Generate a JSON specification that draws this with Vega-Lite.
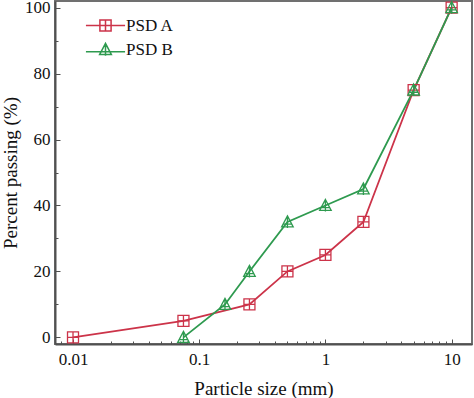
{
  "$schema": "https://vega.github.io/schema/vega-lite/v6.json",
  "width": 417,
  "height": 343,
  "autosize": "none",
  "padding": {"left": 55, "top": 1, "right": 2, "bottom": 54},
  "config": {
    "font": "Liberation Serif",
    "view": {"stroke": "#707070", "strokeWidth": 2},
    "axis": {"grid": false, "domainColor": "#505050", "domainWidth": 2, "tickColor": "#505050", "labelColor": "#111", "titleColor": "#111", "labelFont": "Liberation Serif", "titleFont": "Liberation Serif", "labelFontSize": 17, "titleFontSize": 19, "titleFontWeight": "normal"}
  },
  "data": {"values": [
    {"size": 0.01, "passing": 0, "series": "PSD A"},
    {"size": 0.075, "passing": 5, "series": "PSD A"},
    {"size": 0.25, "passing": 10, "series": "PSD A"},
    {"size": 0.5, "passing": 20, "series": "PSD A"},
    {"size": 1, "passing": 25, "series": "PSD A"},
    {"size": 2, "passing": 35, "series": "PSD A"},
    {"size": 5, "passing": 75, "series": "PSD A"},
    {"size": 10, "passing": 100, "series": "PSD A"},
    {"size": 0.075, "passing": 0, "series": "PSD B"},
    {"size": 0.16, "passing": 10, "series": "PSD B"},
    {"size": 0.25, "passing": 20, "series": "PSD B"},
    {"size": 0.5, "passing": 35, "series": "PSD B"},
    {"size": 1, "passing": 40, "series": "PSD B"},
    {"size": 2, "passing": 45, "series": "PSD B"},
    {"size": 5, "passing": 75, "series": "PSD B"},
    {"size": 10, "passing": 100, "series": "PSD B"}
  ]},
  "resolve": {"axis": {"x": "independent", "y": "independent"}},
  "layer": [
    {
      "mark": {"type": "point", "opacity": 0},
      "encoding": {
        "x": {"field": "size", "type": "quantitative", "scale": {"type": "log", "domain": [0.0072, 14.5], "nice": false},
              "axis": {"orient": "bottom", "values": [0.008, 0.009, 0.02, 0.03, 0.04, 0.05, 0.06, 0.07, 0.08, 0.09, 0.2, 0.3, 0.4, 0.5, 0.6, 0.7, 0.8, 0.9, 2, 3, 4, 5, 6, 7, 8, 9], "labels": false, "title": null, "domain": false, "tickSize": -3}},
        "y": {"field": "passing", "type": "quantitative", "scale": {"domain": [-2, 102], "nice": false},
              "axis": {"orient": "left", "values": [10, 30, 50, 70, 90], "labels": false, "title": null, "domain": false, "tickSize": -3}}
      }
    },
    {
      "mark": {"type": "line", "strokeWidth": 1.8},
      "encoding": {
        "x": {"field": "size", "type": "quantitative", "scale": {"type": "log", "domain": [0.0072, 14.5], "nice": false},
              "axis": {"orient": "bottom", "values": [0.01, 0.1, 1, 10], "format": "~g", "tickSize": -5, "labelPadding": 12, "title": "Particle size (mm)", "titlePadding": 12}},
        "y": {"field": "passing", "type": "quantitative", "scale": {"domain": [-2, 102], "nice": false},
              "axis": {"orient": "left", "values": [0, 20, 40, 60, 80, 100], "tickSize": -5, "labelPadding": 10, "title": "Percent passing (%)", "titlePadding": 4}},
        "color": {"field": "series", "type": "nominal",
                  "scale": {"domain": ["PSD A", "PSD B"], "range": ["#CC3349", "#2E9A4F"]},
                  "legend": {"title": null, "orient": "none", "legendX": 42, "legendY": 16, "padding": 0,
                             "symbolSize": 125, "symbolStrokeWidth": 1.5, "symbolFillColor": "transparent",
                             "labelFontSize": 17, "labelFont": "Liberation Serif", "labelColor": "#111", "labelOffset": 12, "rowPadding": 5,
                             "encode": {"symbols": {"update": {"shape": {"signal": "datum.value == 'PSD A' ? 'M-1,-1L1,-1L1,1L-1,1ZM0,-1L0,1M-1,0L1,0M-3.5,0L-1,0M1,0L3.5,0' : 'M0,-1.1L1.05,0.9L-1.05,0.9ZM0,-1.1L0,1.1M-0.8,0.4L0.8,0.4M-3.5,0.4L-0.75,0.4M0.75,0.4L3.5,0.4'"}}}}}}
      }
    },
    {
      "transform": [{"filter": "datum.series == 'PSD A'"}],
      "mark": {"type": "point", "filled": false, "strokeWidth": 1.3, "opacity": 1, "size": 121, "shape": "M-1,-1H1V1H-1ZM0,-1V1M-1,0H1"},
      "encoding": {
        "x": {"field": "size", "type": "quantitative", "axis": null},
        "y": {"field": "passing", "type": "quantitative", "axis": null},
        "color": {"field": "series", "type": "nominal", "legend": null}
      }
    },
    {
      "transform": [{"filter": "datum.series == 'PSD B'"}],
      "mark": {"type": "point", "filled": false, "strokeWidth": 1.3, "opacity": 1, "size": 121, "shape": "M0,-1.1L1.05,0.9H-1.05ZM0,-1.1V1.1M-0.8,0.4H0.8"},
      "encoding": {
        "x": {"field": "size", "type": "quantitative", "axis": null},
        "y": {"field": "passing", "type": "quantitative", "axis": null},
        "color": {"field": "series", "type": "nominal", "legend": null}
      }
    }
  ]
}
